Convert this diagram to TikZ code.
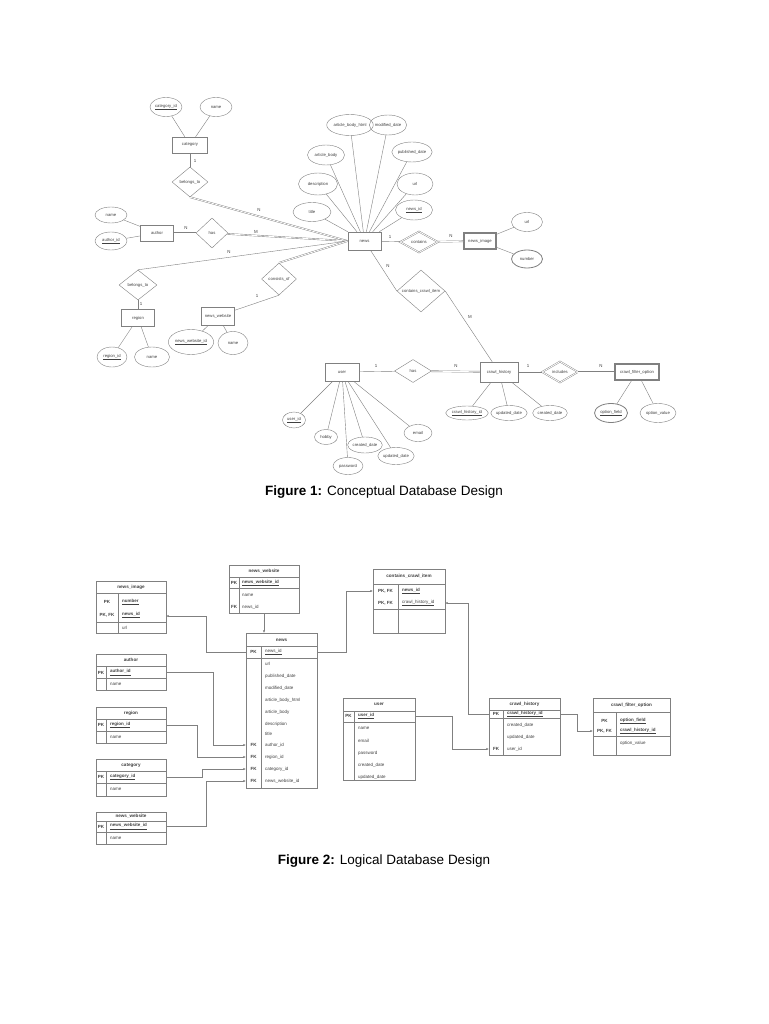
\documentclass[tikz,border=0pt]{standalone}
\usepackage{fontspec}
\setmainfont{Liberation Sans}
\usetikzlibrary{shapes.geometric,arrows.meta}
\definecolor{linec}{gray}{0.5}
\definecolor{txtc}{gray}{0.25}
\begin{document}
\begin{tikzpicture}[x=1pt,y=-1pt,
 ertxt/.style={font=\fontsize{4.2}{5}\selectfont, text=txtc},
 ent/.style={draw=linec, rectangle, ertxt, inner sep=0pt, line width=0.5pt},
 attr/.style={draw=linec, ellipse, ertxt, inner sep=0pt, line width=0.4pt},
 rel/.style={draw=linec, diamond, ertxt, inner sep=0pt, line width=0.4pt},
 weak/.style={double=white, double distance=0.8pt},
 ln/.style={draw=linec, line width=0.4pt},
 dbl/.style={draw=linec, line width=0.4pt, double=white, double distance=0.8pt},
 card/.style={font=\fontsize{4.4}{5}\selectfont, text=txtc, inner sep=0pt},
 tbox/.style={draw=linec, rectangle, inner sep=0pt, line width=0.5pt},
 tb/.style={draw=linec, line width=0.5pt},
 tt/.style={font=\fontsize{4.5}{5}\selectfont\bfseries, text=txtc, inner sep=0pt},
 th/.style={font=\fontsize{4.6}{5}\selectfont\bfseries, text=txtc, inner sep=0pt},
 tf/.style={font=\fontsize{4.5}{5}\selectfont, text=txtc, inner sep=0pt, anchor=west},
 fk/.style={draw=linec, line width=0.5pt, -{Latex[length=2.6pt,width=2.2pt]}},
 captxt/.style={font=\fontsize{13.5}{16}\selectfont, text=black, inner sep=0pt}
]
\fill[white] (0,0) rectangle (768,1024);
\useasboundingbox (0,0) rectangle (768,1024);

% ================= Figure 1 =================
\node[attr, minimum width=32pt, minimum height=19pt] (catid) at (166,107) {\underline{category\_id}};
\node[attr, minimum width=32pt, minimum height=19pt] (catname) at (216,107) {name};
\node[ent, minimum width=35pt, minimum height=16pt] (category) at (190,145) {category};
\node[rel, minimum width=36pt, minimum height=30pt] (bt1) at (190,182) {belongs\_to};

\node[ent, minimum width=33pt, minimum height=16pt] (author) at (157,233) {author};
\node[attr, minimum width=32pt, minimum height=16pt] (aname) at (111,215) {name};
\node[attr, minimum width=32pt, minimum height=18pt] (aid) at (111,241) {\underline{author\_id}};
\node[rel, minimum width=32pt, minimum height=30pt] (has1) at (212,233) {has};

\node[ent, minimum width=33pt, minimum height=18pt] (news) at (364.5,241) {news};
\node[attr, minimum width=44pt, minimum height=21pt] (abh) at (350,125) {article\_body\_html};
\node[attr, minimum width=29pt, minimum height=20pt] (mod) at (388,125) {modified\_date};
\node[attr, minimum width=30pt, minimum height=20pt] (pub) at (412,152) {published\_date};
\node[attr, minimum width=37pt, minimum height=20pt] (ab) at (326,155) {article\_body};
\node[attr, minimum width=39pt, minimum height=22pt] (desc) at (318,184) {description};
\node[attr, minimum width=36pt, minimum height=22pt] (url) at (415,184) {url};
\node[attr, minimum width=38pt, minimum height=19pt] (title) at (312,212) {title};
\node[attr, minimum width=37pt, minimum height=20pt] (nid) at (414,210) {\underline{news\_id}};

\node[rel, weak, minimum width=38pt, minimum height=21pt] (contains) at (419,242) {contains};
\node[ent, line width=0.6pt, minimum width=33pt, minimum height=17pt] (nimg) at (480,241) {news\_image};
\draw[ln, line width=0.6pt] ([shift={(1.4pt,-1.4pt)}]nimg.north west) rectangle ([shift={(-1.4pt,1.4pt)}]nimg.south east);
\node[attr, minimum width=31pt, minimum height=19pt] (iurl) at (527,222) {url};
\node[attr, line width=0.8pt, minimum width=31pt, minimum height=18pt] (inum) at (527,259) {number};
\node[rel, minimum width=48pt, minimum height=34pt] (cci) at (421,291) {contains\_crawl\_item};

\node[rel, minimum width=38pt, minimum height=30pt] (bt2) at (138,285) {belongs\_to};
\node[ent, minimum width=33pt, minimum height=17pt] (region) at (138,318) {region};
\node[attr, minimum width=30pt, minimum height=20pt] (rid) at (112,357) {\underline{region\_id}};
\node[attr, minimum width=35pt, minimum height=20pt] (rname) at (152,357) {name};

\node[rel, minimum width=35pt, minimum height=32pt] (cons) at (279,279) {consists\_of};
\node[ent, minimum width=33pt, minimum height=18pt] (nw) at (218,316) {news\_website};
\node[attr, minimum width=38pt, minimum height=25pt] (nwid) at (191,342) {\underline{news\_website\_id}};
\node[attr, minimum width=30pt, minimum height=23pt] (nwname) at (233,343) {name};

\node[ent, minimum width=34pt, minimum height=18pt] (user) at (342,372) {user};
\node[rel, minimum width=37pt, minimum height=23pt] (has2) at (413,371) {has};
\node[attr, minimum width=23pt, minimum height=16pt] (uid) at (294,420) {\underline{user\_id}};
\node[attr, minimum width=23pt, minimum height=15pt] (uhob) at (326,437) {hobby};
\node[attr, minimum width=30pt, minimum height=17pt] (upw) at (348,466) {password};
\node[attr, minimum width=30pt, minimum height=16pt] (ucd) at (365,445) {created\_date};
\node[attr, minimum width=28pt, minimum height=17pt] (uud) at (396,456) {updated\_date};
\node[attr, minimum width=28pt, minimum height=17pt] (uem) at (418,433) {email};

\node[ent, minimum width=38pt, minimum height=20pt] (ch) at (499,372) {crawl\_history};
\node[attr, minimum width=40pt, minimum height=14pt] (chid) at (467,413) {\underline{crawl\_history\_id}};
\node[attr, minimum width=32pt, minimum height=15pt] (chud) at (509,413) {updated\_date};
\node[attr, minimum width=30pt, minimum height=15pt] (chcd) at (550,413) {created\_date};
\node[rel, weak, minimum width=36pt, minimum height=21pt] (incl) at (560,372) {includes};
\node[ent, line width=0.6pt, minimum width=45pt, minimum height=17pt] (cfo) at (637,372) {crawl\_filter\_option};
\draw[ln, line width=0.6pt] ([shift={(1.4pt,-1.4pt)}]cfo.north west) rectangle ([shift={(-1.4pt,1.4pt)}]cfo.south east);
\node[attr, line width=0.8pt, minimum width=33pt, minimum height=19pt] (ofield) at (611,413) {\underline{option\_field}};
\node[attr, minimum width=36pt, minimum height=19pt] (oval) at (658,413) {option\_value};

% connectors
\draw[ln] (catid) -- (category);
\draw[ln] (catname) -- (category);
\draw[ln] (category) -- (bt1);
\draw[dbl] (bt1.south) -- (news.west);
\draw[ln] (aname) -- (author);
\draw[ln] (aid) -- (author);
\draw[dbl] (author) -- (has1);
\draw[dbl] (has1) -- (news.west);
\draw[ln] (bt2.north) -- (news.west);
\draw[ln] (bt2) -- (region);
\draw[ln] (region) -- (rid);
\draw[ln] (region) -- (rname);
\draw[dbl] (cons.north) -- (news.west);
\draw[ln] (cons.south) -- (nw);
\draw[ln] (nw) -- (nwid);
\draw[ln] (nw) -- (nwname);
\foreach \a in {abh,mod,pub,ab,desc,url,title,nid} \draw[ln] (\a) -- (news);
\draw[ln] (news) -- (contains);
\draw[dbl] (contains) -- (nimg);
\draw[ln] (nimg) -- (iurl);
\draw[ln] (nimg) -- (inum);
\draw[ln] (news) -- (cci.west);
\draw[ln] (cci.east) -- (ch);
\draw[ln] (user) -- (has2);
\draw[dbl] (has2) -- (ch);
\draw[ln] (ch) -- (incl);
\draw[dbl] (incl) -- (cfo);
\foreach \a in {uid,uhob,upw,ucd,uud,uem} \draw[ln] (user) -- (\a);
\foreach \a in {chid,chud,chcd} \draw[ln] (ch) -- (\a);
\foreach \a in {ofield,oval} \draw[ln] (cfo) -- (\a);

% cardinalities
\node[card] (k1) at (195,161) {1};
\node[card] (k2) at (259,210) {N};
\node[card] (k3) at (186,228) {N};
\node[card] (k4) at (256,232) {M};
\node[card] (k5) at (229,252) {N};
\node[card] (k6) at (141,304) {1};
\node[card] (k7) at (257,296) {1};
\node[card] (k8) at (390,237) {1};
\node[card] (k9) at (451,236) {N};
\node[card] (k10) at (388,266) {N};
\node[card] (k11) at (470,317) {M};
\node[card] (k12) at (376,366) {1};
\node[card] (k13) at (456,366) {N};
\node[card] (k14) at (528,366) {1};
\node[card] (k15) at (601,366) {N};

\node[captxt] (cap1) at (384,492) {\textbf{Figure 1:} Conceptual Database Design};

% ================= Figure 2 =================
% news_image
\node[tbox, minimum width=70pt, minimum height=52pt] (tNI) at (131,607) {};
\node[th] (tNIh) at (131,587) {news\_image};
\draw[tb] (96,593) -- (166,593);
\draw[tb] (118,593) -- (118,633);
\draw[tb, line width=0.8pt] (96,622) -- (166,622);
\node[tt] (tNIk1) at (107,602) {PK};
\node[tf] (tNIf1) at (122,602) {\bfseries\underline{number}};
\node[tt] (tNIk2) at (107,615) {PK, FK};
\node[tf] (tNIf2) at (122,615) {\bfseries\underline{news\_id}};
\node[tf] (tNIf3) at (122,628) {url};

% news_website (top)
\node[tbox, minimum width=70pt, minimum height=48pt] (tNWt) at (264,589) {};
\node[th] (tNWth) at (264,571) {news\_website};
\draw[tb] (229,577) -- (299,577);
\draw[tb] (239,577) -- (239,613);
\draw[tb, line width=0.8pt] (229,588) -- (299,588);
\node[tt] (tNWtk1) at (234,583) {PK};
\node[tf] (tNWtf1) at (242,583) {\bfseries\underline{news\_website\_id}};
\node[tf] (tNWtf2) at (242,595) {name};
\node[tt] (tNWtk2) at (234,607) {FK};
\node[tf] (tNWtf3) at (242,607) {news\_id};

% news
\node[tbox, minimum width=71pt, minimum height=155pt] (tN) at (281.5,710.5) {};
\node[th] (tNh) at (281.5,640) {news};
\draw[tb] (246,646) -- (317,646);
\draw[tb] (261,646) -- (261,788);
\draw[tb, line width=0.8pt] (246,658) -- (317,658);
\node[tt] (tNk0) at (253.5,652) {PK};
\node[tf] (tNf0) at (265,652) {\underline{news\_id}};
\foreach \y/\t [count=\i] in {664/url,676/published\_date,688/modified\_date,700/article\_body\_html,712/article\_body,724/description,734/title,745/author\_id,757/region\_id,769/category\_id,781/news\_website\_id}
  \node[tf] (tNf\i) at (265,\y) {\t};
\foreach \y [count=\i] in {745,757,769,781}
  \node[tt] (tNk\i) at (253.5,\y) {FK};

% contains_crawl_item
\node[tbox, minimum width=72pt, minimum height=64pt] (tC) at (409,601) {};
\node[th] (tCh) at (409,576.5) {contains\_crawl\_item};
\draw[tb] (373,584) -- (445,584);
\draw[tb] (398,584) -- (398,633);
\draw[tb, line width=0.8pt] (373,609) -- (445,609);
\node[tt] (tCk1) at (385.5,591) {PK, FK};
\node[tf] (tCf1) at (402,591) {\bfseries\underline{news\_id}};
\node[tt] (tCk2) at (385.5,603) {PK, FK};
\node[tf] (tCf2) at (402,603) {\underline{crawl\_history\_id}};

% user
\node[tbox, minimum width=72pt, minimum height=82pt] (tU) at (379,739) {};
\node[th] (tUh) at (379,704.5) {user};
\draw[tb] (343,711) -- (415,711);
\draw[tb] (354,711) -- (354,780);
\draw[tb, line width=0.8pt] (343,722) -- (415,722);
\node[tt] (tUk1) at (348.5,716) {PK};
\node[tf] (tUf0) at (358,716) {\bfseries\underline{user\_id}};
\foreach \y/\t [count=\i] in {728/name,741/email,753/password,765/created\_date,777/updated\_date}
  \node[tf] (tUf\i) at (358,\y) {\t};

% crawl_history
\node[tbox, minimum width=71pt, minimum height=57pt] (tH) at (524.5,726.5) {};
\node[th] (tHh) at (524.5,704) {crawl\_history};
\draw[tb] (489,710) -- (560,710);
\draw[tb] (503,710) -- (503,755);
\draw[tb, line width=0.8pt] (489,718) -- (560,718);
\node[tt] (tHk1) at (496,714) {PK};
\node[tf] (tHf0) at (507,714) {\bfseries\underline{crawl\_history\_id}};
\node[tf] (tHf1) at (507,725) {created\_date};
\node[tf] (tHf2) at (507,737) {updated\_date};
\node[tt] (tHk2) at (496,749) {FK};
\node[tf] (tHf3) at (507,749) {user\_id};

% crawl_filter_option
\node[tbox, minimum width=77pt, minimum height=57pt] (tF) at (631.5,726.5) {};
\node[th] (tFh) at (631.5,705) {crawl\_filter\_option};
\draw[tb] (593,712) -- (670,712);
\draw[tb] (616,712) -- (616,755);
\draw[tb, line width=0.8pt] (593,736) -- (670,736);
\node[tt] (tFk1) at (604.5,721) {PK};
\node[tf] (tFf1) at (620,721) {\bfseries\underline{option\_field}};
\node[tt] (tFk2) at (604.5,731) {PK, FK};
\node[tf] (tFf2) at (620,731) {\bfseries\underline{crawl\_history\_id}};
\node[tf] (tFf3) at (620,743) {option\_value};

% author
\node[tbox, minimum width=70pt, minimum height=36pt] (tA) at (131,672) {};
\node[th] (tAh) at (131,660) {author};
\draw[tb] (96,666) -- (166,666);
\draw[tb] (106,666) -- (106,690);
\draw[tb, line width=0.8pt] (96,678) -- (166,678);
\node[tt] (tAk) at (101,672.5) {PK};
\node[tf] (tAf1) at (110,672.5) {\bfseries\underline{author\_id}};
\node[tf] (tAf2) at (110,684) {name};

% region
\node[tbox, minimum width=70pt, minimum height=36pt] (tR) at (131,725) {};
\node[th] (tRh) at (131,713) {region};
\draw[tb] (96,719) -- (166,719);
\draw[tb] (106,719) -- (106,743);
\draw[tb, line width=0.8pt] (96,731) -- (166,731);
\node[tt] (tRk) at (101,725) {PK};
\node[tf] (tRf1) at (110,725) {\bfseries\underline{region\_id}};
\node[tf] (tRf2) at (110,737) {name};

% category
\node[tbox, minimum width=70pt, minimum height=37pt] (tK) at (131,777.5) {};
\node[th] (tKh) at (131,765) {category};
\draw[tb] (96,771) -- (166,771);
\draw[tb] (106,771) -- (106,796);
\draw[tb, line width=0.8pt] (96,783) -- (166,783);
\node[tt] (tKk) at (101,777) {PK};
\node[tf] (tKf1) at (110,777) {\bfseries\underline{category\_id}};
\node[tf] (tKf2) at (110,789) {name};

% news_website (bottom)
\node[tbox, minimum width=70pt, minimum height=32pt] (tW) at (131,828) {};
\node[th] (tWh) at (131,816.5) {news\_website};
\draw[tb] (96,821) -- (166,821);
\draw[tb] (106,821) -- (106,844);
\draw[tb, line width=0.8pt] (96,832) -- (166,832);
\node[tt] (tWk) at (101,826.5) {PK};
\node[tf] (tWf1) at (110,826.5) {\bfseries\underline{news\_website\_id}};
\node[tf] (tWf2) at (110,838) {name};

% connector end points
\coordinate (nwS) at (264,613);
\coordinate (nN) at (264,633);
\coordinate (nPKw) at (246,652);
\coordinate (nPKe) at (317,652);
\coordinate (niE) at (166,616);
\coordinate (cW) at (373,591);
\coordinate (cE) at (445,603);
\coordinate (hPKw) at (489,714);
\coordinate (hPKe) at (560,714);
\coordinate (hFKw) at (489,749);
\coordinate (uPKe) at (415,716);
\coordinate (fW) at (593,731);
\coordinate (aE) at (166,672.5);
\coordinate (rE) at (166,725);
\coordinate (kE) at (166,777);
\coordinate (wE) at (166,826.5);
\coordinate (nA) at (246,745);
\coordinate (nR) at (246,757);
\coordinate (nK) at (246,769);
\coordinate (nW) at (246,781);

\draw[fk] (nwS) -- (nN);
\draw[fk] (nPKw) -- ++(-40,0) |- (niE);
\draw[fk] (nPKe) -- ++(29,0) |- (cW);
\draw[fk] (hPKw) -- ++(-21,0) |- (cE);
\draw[fk] (uPKe) -- ++(37,0) |- (hFKw);
\draw[fk] (hPKe) -- ++(17,0) |- (fW);
\draw[fk] (aE) -- ++(47,0) |- (nA);
\draw[fk] (rE) -- ++(31,0) |- (nR);
\draw[fk] (kE) -- ++(36,0) |- (nK);
\draw[fk] (wE) -- ++(40,0) |- (nW);

\node[captxt] (cap2) at (384,861) {\textbf{Figure 2:} Logical Database Design};
\end{tikzpicture}
\end{document}
